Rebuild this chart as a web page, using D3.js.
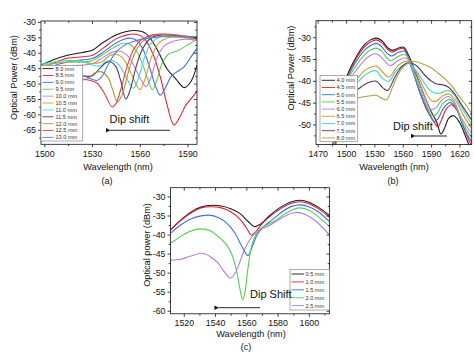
<!DOCTYPE html>
<html><head><meta charset="utf-8">
<script src="https://cdn.jsdelivr.net/npm/d3@7"></script>
<style>body{margin:0;background:#fff}svg{display:block}text{font-family:"Liberation Sans",Arial,sans-serif}</style>
</head><body><svg id="c" width="474" height="353"></svg>
<script>
// ---------- Panel (a) ----------
const aLabels = ["8.0 mm","8.5 mm","9.0 mm","9.5 mm","10.0 mm","10.5 mm","11.0 mm","11.5 mm","12.0 mm","12.5 mm","13.0 mm"];
const aColors = ["#1a1a1a","#e8232a","#3d6fe0","#59d159","#c27ce8","#c8a52a","#3fd8d8","#5a3a6a","#a89a3a","#ee3a48","#4f7fe8"];
const aXTicks = [1500,1530,1560,1590];
const aYTicks = [-30,-35,-40,-45,-50,-55,-60,-65];
const a80 = [[1497.9,-44],[1505,-42.4],[1514.5,-40.8],[1524,-39.9],[1530.5,-39.1],[1536,-37],[1544.7,-34.3],[1551,-33.2],[1557.6,-32.8],[1564,-33.8],[1570.6,-38.6],[1577,-45.1],[1582.4,-48.3],[1588,-51.3],[1592,-49.5],[1596,-44]];
const a85 = [[1497.9,-45],[1505,-43.5],[1514.5,-41.8],[1524,-41.3],[1530.5,-40.8],[1537,-38.5],[1545,-35.5],[1552,-34.2],[1558,-34],[1563,-35.5],[1568,-40],[1573,-48],[1577,-56.5],[1581.5,-63.4],[1585,-61],[1589,-57],[1593,-54.5],[1596,-52.5]];
const a90 = [[1497.9,-45.5],[1505,-44.3],[1514.5,-43],[1524,-42.3],[1530.5,-41.8],[1537,-39.8],[1544,-37.2],[1550,-35.6],[1555,-35.3],[1559,-36.5],[1563,-40],[1567,-46],[1570,-51],[1573,-53.8],[1576,-51.5],[1580,-47.5],[1584,-46],[1588,-44.5],[1592,-41.5],[1596,-38.6]];
const a95 = [[1497.9,-44.8],[1506,-43.5],[1514.5,-43],[1524,-43],[1530.5,-42.5],[1537,-40.5],[1543,-38.5],[1549,-37],[1554,-37.3],[1558,-39.5],[1562,-44],[1565,-48.5],[1568,-52],[1571,-48.5],[1574,-43.5],[1578,-40.5],[1584,-39.3],[1590,-37.5],[1596,-35.5]];
const a100 = [[1497.9,-45],[1506,-44.5],[1514.5,-44.3],[1524,-44],[1530.5,-43.5],[1537,-41.5],[1543,-39.8],[1548,-39.5],[1552,-40.8],[1556,-43.8],[1560,-48],[1564,-51],[1567,-48],[1571,-41.5],[1575,-38],[1581,-36.3],[1588,-35.6],[1596,-36]];
const a105 = [[1497.9,-44.2],[1506,-43.5],[1514.5,-43],[1524,-43],[1530.5,-43.5],[1536,-43],[1541,-41],[1545,-40.5],[1549,-41.5],[1553,-45],[1557,-49.5],[1560,-52],[1563,-49],[1567,-42],[1571,-37.5],[1577,-35.2],[1585,-35],[1596,-35.5]];
const a110 = [[1497.9,-43.8],[1506,-43],[1514.5,-42.5],[1524,-42.8],[1530.5,-44],[1535,-44.3],[1539,-42.8],[1543,-42.5],[1547,-44],[1551,-47.5],[1556,-51.5],[1559,-48.5],[1563,-41.5],[1567,-37],[1573,-34.8],[1582,-34.5],[1596,-35]];
const a115 = [[1497.9,-46],[1506,-46.3],[1514.5,-46.8],[1524,-47.5],[1530,-47.5],[1535,-45],[1539,-43.2],[1542,-43],[1545,-44.5],[1548,-49],[1551.3,-55],[1554,-52],[1558,-44],[1562,-38.5],[1567,-35.3],[1574,-34.2],[1584,-34.4],[1596,-35]];
const a120 = [[1497.9,-46.5],[1506,-47],[1514.5,-47.8],[1522,-48.8],[1527,-48.5],[1532,-46.5],[1536,-46.2],[1540,-48],[1543,-52],[1546,-56],[1549,-53.5],[1553,-46],[1557,-40],[1562,-36.2],[1569,-34.3],[1578,-34],[1588,-34.5],[1596,-35]];
const a125 = [[1497.9,-45],[1506,-45.3],[1514.5,-46.3],[1520,-47.2],[1524,-48.4],[1529,-49],[1533,-49.8],[1537,-52.5],[1540,-55.5],[1542.6,-57.6],[1545,-56.5],[1548,-52],[1552,-44.5],[1556,-39],[1561,-35.8],[1568,-34.2],[1578,-34],[1588,-34.8],[1596,-35.5]];
const a130 = [[1497.9,-45.5],[1506,-46],[1514.5,-46.8],[1521,-47.3],[1526,-47.8],[1530,-48.6],[1533,-49],[1536,-47.8],[1540,-44],[1544,-40.5],[1549,-38],[1555,-36.5],[1562,-35.5],[1570,-35],[1580,-34.6],[1596,-35]];
const aSeries = [a80,a85,a90,a95,a100,a105,a110,a115,a120,a125,a130];

// ---------- Panel (b) ----------
const bLabels = ["4.0 mm","4.5 mm","5.0 mm","5.5 mm","6.0 mm","6.5 mm","7.0 mm","7.5 mm","8.0 mm"];
const bColors = ["#1a1a1a","#e8232a","#3d6fe0","#4fcf4f","#c07ae8","#c8a020","#40d0d0","#5a3366","#b0a040"];
const bXTicks = [1470,1500,1530,1560,1590,1620];
const bYTicks = [-30,-35,-40,-45,-50];
const b40 = [[1480,-62],[1490,-50],[1500,-39.5],[1510,-34.8],[1520,-31.6],[1526,-30.6],[1532,-30.2],[1538,-30.8],[1544,-32.4],[1549,-33],[1555,-32.5],[1561,-32.3],[1567,-34.5],[1575,-39],[1583,-43.5],[1590,-47],[1596,-49.5],[1600.5,-52.2],[1604,-51],[1609,-48.5],[1614,-48],[1620,-49.5],[1627,-53],[1633,-56.5]];
const b45 = [[1480,-62],[1490,-50.5],[1500,-40],[1510,-35.2],[1520,-32.1],[1526,-31.1],[1532,-30.6],[1538,-31.3],[1544,-32.8],[1549,-33.4],[1555,-32.8],[1561,-32.6],[1569,-36.5],[1577,-42],[1585,-46.5],[1592,-49],[1597,-50.5],[1601,-49],[1606,-46.5],[1612,-45.5],[1618,-47],[1626,-51.5],[1633,-55]];
const b50 = [[1480,-62],[1490,-51],[1500,-40.3],[1510,-35.8],[1520,-32.9],[1526,-31.9],[1532,-31.4],[1538,-32.2],[1543,-33.6],[1548,-34.3],[1555,-33.5],[1562,-33.2],[1570,-37.5],[1578,-42.5],[1586,-46.5],[1593,-49.3],[1597,-48.8],[1603,-46.3],[1610,-45],[1616,-46],[1624,-50.5],[1633,-54]];
const b55 = [[1480,-62],[1490,-51.5],[1500,-40.7],[1510,-36.7],[1520,-33.9],[1526,-32.9],[1532,-32.5],[1538,-33.3],[1543,-34.7],[1547,-35.4],[1555,-34.4],[1563,-34],[1571,-37.8],[1579,-42.3],[1586,-46],[1591,-48],[1596,-47.6],[1602,-45.3],[1609,-44.3],[1615,-45.3],[1623,-49.5],[1633,-53]];
const b60 = [[1480,-62],[1490,-52],[1500,-41.2],[1510,-37.8],[1520,-35.2],[1526,-34.1],[1532,-33.8],[1538,-34.7],[1543,-36],[1547,-36.5],[1556,-35.2],[1564,-34.8],[1572,-37.8],[1580,-41.8],[1586,-45],[1590,-46.6],[1595,-46.2],[1601,-44.5],[1608,-43.6],[1614,-44.6],[1622,-48.5],[1633,-52]];
const b65 = [[1480,-62],[1490,-52.5],[1500,-41.8],[1510,-39.8],[1520,-37.6],[1526,-36.9],[1532,-36.6],[1538,-37.8],[1543,-38.9],[1546,-39.1],[1555,-36.5],[1565,-35.5],[1573,-37.6],[1580,-40.6],[1586,-43.3],[1591,-44.6],[1596,-44.6],[1602,-43.5],[1609,-43],[1616,-44.5],[1624,-47.8],[1633,-51]];
const b70 = [[1480,-62],[1490,-53],[1500,-42.3],[1510,-40.8],[1520,-38.7],[1526,-37.9],[1532,-37.7],[1538,-39.3],[1545,-40.1],[1554,-37.5],[1566,-36],[1574,-37.6],[1582,-40.2],[1588,-42],[1594,-42.8],[1600,-42.8],[1607,-42.2],[1613,-42.8],[1620,-45.3],[1633,-50]];
const b75 = [[1480,-62],[1490,-53.5],[1500,-43.2],[1510,-42.3],[1520,-40.8],[1526,-40.2],[1532,-40.1],[1539,-41.6],[1544,-42.2],[1552,-39],[1560,-36.5],[1567,-35.8],[1575,-36.6],[1583,-38.6],[1590,-40],[1596,-40.7],[1602,-40.9],[1608,-41.4],[1615,-43],[1622,-45.4],[1633,-49]];
const b80 = [[1480,-62],[1490,-54],[1500,-44.5],[1510,-44],[1520,-43.6],[1526,-43.4],[1532,-43.3],[1538,-44],[1543,-44.3],[1550,-41],[1558,-37.5],[1565,-36],[1571,-35.5],[1580,-36],[1590,-37],[1598,-38.3],[1605,-39.6],[1612,-41.2],[1620,-43.6],[1627,-45.6],[1633,-47.5]];
const bSeries = [b40,b45,b50,b55,b60,b65,b70,b75,b80];

// ---------- Panel (c) ----------
const cLabels = ["0.5 mm","1.0 mm","1.5 mm","2.0 mm","2.5 mm"];
const cColors = ["#1a1a1a","#e8232a","#3d6fe0","#4fd04f","#b07ae0"];
const cXTicks = [1520,1540,1560,1580,1600];
const cYTicks = [-30,-35,-40,-45,-50,-55,-60];
const c05 = [[1511.5,-38.8],[1518,-36.2],[1525,-34],[1531,-32.8],[1538,-32.3],[1544,-32.5],[1550,-33.2],[1556,-34.5],[1561,-36.5],[1565,-37.9],[1569,-37.3],[1575,-35],[1582,-32.8],[1588,-31.5],[1594.5,-31],[1600,-31.5],[1606,-32.8],[1613.2,-35]];
const c10 = [[1511.5,-38.8],[1518,-36.3],[1525,-34.2],[1531,-33],[1538,-32.7],[1544,-33],[1550,-34],[1556,-36],[1560,-38.2],[1563.2,-40.1],[1566,-39.3],[1570,-37.2],[1575,-35.3],[1582,-33.2],[1588,-31.9],[1594.5,-31.4],[1600,-31.9],[1606,-33.2],[1613.2,-35.5]];
const c15 = [[1511.5,-39.7],[1518,-37.5],[1525,-35.8],[1531,-35.1],[1536,-34.9],[1542,-35.5],[1548,-37.2],[1553,-39.8],[1557,-43],[1561,-45.5],[1564,-43],[1567,-40],[1571,-37.9],[1577,-36],[1583,-34],[1589,-32.6],[1594.5,-32.2],[1600,-32.7],[1606,-34],[1613.2,-36.6]];
const c20 = [[1511.5,-42.3],[1517,-40.8],[1523,-39.3],[1530.6,-38.5],[1537,-39],[1542,-40.5],[1547,-42.5],[1551,-45.5],[1554,-50],[1556.5,-55.5],[1557.7,-57.1],[1559,-55.5],[1561,-49],[1563.6,-42.7],[1567,-39.5],[1571,-37.9],[1578,-36.5],[1585,-34.5],[1593.4,-33],[1600,-33.6],[1606,-35.3],[1613.2,-37.9]];
const c25 = [[1511.5,-46.7],[1518,-46.5],[1524,-45.7],[1531.7,-44.9],[1537,-45.8],[1542,-47.5],[1546,-49.8],[1549.8,-51.4],[1553,-50],[1556,-47],[1558.3,-44.5],[1562,-41.5],[1566.8,-39.2],[1571,-38.3],[1575.3,-37.5],[1583,-35.5],[1591.3,-34.2],[1597,-34.6],[1604,-36.3],[1613.2,-40.1]];
const cSeries = [c05,c10,c15,c20,c25];

const svg = d3.select('#c');
const defs = svg.append('defs');
defs.append('marker').attr('id','ah').attr('viewBox','0 0 10 10').attr('refX',1).attr('refY',5)
  .attr('markerWidth',6).attr('markerHeight',5).attr('orient','auto-start-reverse')
  .append('path').attr('d','M0,5 L10,0 L10,10 Z').attr('fill','#111');

function panel(cfg){
  const {id, box, xDom, yDom, xTicks, xMinorStep, yTicks, yMinorStep, series, labels, colors, leg, xTitle, yTitle, dip, caption} = cfg;
  const x = d3.scaleLinear().domain(xDom).range([box.l, box.r]);
  const y = d3.scaleLinear().domain(yDom).range([box.b, box.t]);
  const g = svg.append('g');
  defs.append('clipPath').attr('id','clip'+id).append('rect')
    .attr('x',box.l).attr('y',box.t).attr('width',box.r-box.l).attr('height',box.b-box.t);
  const line = d3.line().x(d=>x(d[0])).y(d=>y(d[1])).curve(d3.curveCatmullRom.alpha(0.5));
  g.append('g').attr('clip-path',`url(#clip${id})`).selectAll('path').data(series).join('path')
    .attr('d',line).attr('fill','none').attr('stroke',(d,i)=>colors[i]).attr('stroke-width',1.1);

  const xMinor = d3.range(Math.ceil(xDom[0]/xMinorStep)*xMinorStep, xDom[1]+1e-9, xMinorStep).filter(v=>!xTicks.includes(v));
  const yMinor = d3.range(Math.ceil(yDom[0]/yMinorStep)*yMinorStep, yDom[1]+1e-9, yMinorStep).filter(v=>!yTicks.includes(v));
  const fmt = d => String(d);
  function styleAx(s){ s.select('.domain').remove(); s.selectAll('line').attr('stroke','#111').attr('stroke-width',0.8);
    s.selectAll('text').attr('font-family','"Liberation Sans",Arial,sans-serif').attr('font-size',8.8).attr('fill','#111'); }
  g.append('g').attr('transform',`translate(0,${box.b})`).call(d3.axisBottom(x).tickValues(xTicks).tickSize(3).tickPadding(3).tickFormat(fmt)).call(styleAx);
  g.append('g').attr('transform',`translate(0,${box.b})`).call(d3.axisBottom(x).tickValues(xMinor).tickSize(1.8).tickFormat('')).call(styleAx);
  g.append('g').attr('transform',`translate(${box.l},0)`).call(d3.axisLeft(y).tickValues(yTicks).tickSize(3).tickPadding(2).tickFormat(fmt)).call(styleAx);
  g.append('g').attr('transform',`translate(${box.l},0)`).call(d3.axisLeft(y).tickValues(yMinor).tickSize(1.8).tickFormat('')).call(styleAx);
  g.append('g').attr('transform',`translate(0,${box.t})`).call(d3.axisTop(x).tickValues(xTicks).tickSize(-3).tickFormat('')).call(styleAx);
  g.append('g').attr('transform',`translate(0,${box.t})`).call(d3.axisTop(x).tickValues(xMinor).tickSize(-1.8).tickFormat('')).call(styleAx);
  g.append('g').attr('transform',`translate(${box.r},0)`).call(d3.axisRight(y).tickValues(yTicks).tickSize(-3).tickFormat('')).call(styleAx);
  g.append('g').attr('transform',`translate(${box.r},0)`).call(d3.axisRight(y).tickValues(yMinor).tickSize(-1.8).tickFormat('')).call(styleAx);
  g.append('rect').attr('x',box.l).attr('y',box.t).attr('width',box.r-box.l).attr('height',box.b-box.t)
    .attr('fill','none').attr('stroke','#111').attr('stroke-width',0.8);

  // legend
  const lg = g.append('g');
  lg.append('rect').attr('x',leg.x0).attr('y',leg.y0).attr('width',leg.x1-leg.x0).attr('height',leg.y1-leg.y0)
    .attr('fill','#fff').attr('stroke','#777').attr('stroke-width',0.6);
  labels.forEach((t,i)=>{
    const yy = leg.first + i*leg.step;
    lg.append('line').attr('x1',leg.lx0).attr('x2',leg.lx1).attr('y1',yy).attr('y2',yy).attr('stroke',colors[i]).attr('stroke-width',0.9);
    lg.append('text').attr('x',leg.tx).attr('y',yy).attr('dy','0.35em').attr('font-size',5.6).attr('fill','#333').text(t);
  });

  // titles
  g.append('text').attr('x',xTitle.x).attr('y',xTitle.y).attr('text-anchor','middle').attr('font-size',9.2).attr('fill','#111').text(xTitle.t);
  g.append('text').attr('transform',`translate(${yTitle.x},${yTitle.y}) rotate(-90)`).attr('text-anchor','middle')
    .attr('dominant-baseline','central').attr('font-size',9.2).attr('fill','#111').text(yTitle.t);
  // dip shift
  g.append('text').attr('x',dip.tx).attr('y',dip.ty).attr('font-size',11).attr('fill','#111').text(dip.t);
  g.append('line').attr('x1',dip.ax1).attr('x2',dip.ax0).attr('y1',dip.ay).attr('y2',dip.ay)
    .attr('stroke','#111').attr('stroke-width',0.9).attr('marker-end','url(#ah)');
  g.append('text').attr('x',caption.x).attr('y',caption.y).attr('text-anchor','middle').attr('font-size',9).attr('fill','#111').text(caption.t);
}

panel({id:'a', box:{l:41,r:197,t:21,b:144.3}, xDom:[1497.9,1596], yDom:[-69.7,-29.7],
  xTicks:aXTicks, xMinorStep:15, yTicks:aYTicks, yMinorStep:2.5, series:aSeries, labels:aLabels, colors:aColors,
  leg:{x0:41,x1:82.7,y0:65.3,y1:141,first:68.6,step:6.88,lx0:42.5,lx1:53.5,tx:55.5},
  xTitle:{x:118,y:169.5,t:'Wavelength (nm)'}, yTitle:{x:14,y:77.5,t:'Optical Power (dBm)'},
  dip:{tx:109.5,ty:122.5,t:'Dip shift',ax0:110,ax1:170,ay:130.3}, caption:{x:107,y:184,t:'(a)'}});

panel({id:'b', box:{l:316,r:471.7,t:20.7,b:144.5}, xDom:[1468.2,1633], yDom:[-54.6,-26.2],
  xTicks:bXTicks, xMinorStep:15, yTicks:bYTicks, yMinorStep:2.5, series:bSeries, labels:bLabels, colors:bColors,
  leg:{x0:320,x1:357.7,y0:75.5,y1:141.5,first:80.3,step:7.2,lx0:321.7,lx1:335,tx:336.5},
  xTitle:{x:394,y:169.5,t:'Wavelength (nm)'}, yTitle:{x:291,y:68,t:'Optical Power (dBm)'},
  dip:{tx:393,ty:130,t:'Dip shift',ax0:415,ax1:447,ay:136}, caption:{x:393,y:184,t:'(b)'}});

panel({id:'c', box:{l:170.5,r:329.5,t:187.7,b:313.8}, xDom:[1511.5,1613.2], yDom:[-60.8,-27.7],
  xTicks:cXTicks, xMinorStep:10, yTicks:cYTicks, yMinorStep:2.5, series:cSeries, labels:cLabels, colors:cColors,
  leg:{x0:290,x1:329.5,y0:269.5,y1:310,first:274,step:7.9,lx0:291.5,lx1:304,tx:305.5},
  xTitle:{x:251,y:337,t:'Wavelength (nm)'}, yTitle:{x:147,y:245,t:'Optical power (dBm)'},
  dip:{tx:250,ty:298,t:'Dip Shift',ax0:218.5,ax1:260,ay:307.7}, caption:{x:246,y:350,t:'(c)'}});
</script></body></html>
